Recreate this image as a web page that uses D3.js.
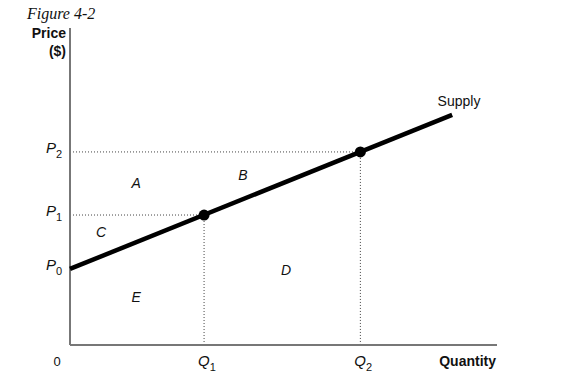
<!DOCTYPE html>
<html><head><meta charset="utf-8">
<script src="https://cdn.jsdelivr.net/npm/d3@7"></script>
<style>body{margin:0;background:#fff}svg{display:block}</style>
</head><body>
<script>
const supplyPoints = [[0, 24], [31.4, 41], [68, 60.9], [89.5, 72.6]];
const equilibria = [[31.4, 41], [68, 60.9]];
const priceTicks = [{v: 24, sub: "0"}, {v: 41, sub: "1"}, {v: 60.9, sub: "2"}];
const qtyTicks = [{v: 31.4, sub: "1"}, {v: 68, sub: "2"}];
const areaLabels = [{t: "A", x: 15.5, y: 51.1}, {t: "B", x: 40.5, y: 53.6}, {t: "C", x: 7.3, y: 35.6}, {t: "D", x: 50.6, y: 23.7}, {t: "E", x: 15.5, y: 15.1}];

const W = 572, H = 391;
const svg = d3.select("body").append("svg").attr("width", W).attr("height", H);
const x = d3.scaleLinear().domain([0, 100]).range([70, 497]);
const y = d3.scaleLinear().domain([0, 100]).range([345, 28]);
const font = "Helvetica, Arial, 'Liberation Sans', sans-serif";

// dotted guides
equilibria.forEach(([q, p]) => {
  svg.append("line").attr("x1", x(0)).attr("x2", x(q)).attr("y1", y(p)).attr("y2", y(p))
    .attr("stroke", "#444").attr("stroke-width", 1).attr("stroke-dasharray", "1,2");
  svg.append("line").attr("x1", x(q)).attr("x2", x(q)).attr("y1", y(p)).attr("y2", y(0))
    .attr("stroke", "#444").attr("stroke-width", 1).attr("stroke-dasharray", "1,2");
});

// axes
svg.append("line").attr("x1", x(0)).attr("x2", x(0)).attr("y1", y(100)).attr("y2", y(0)).attr("stroke", "#777").attr("stroke-width", 2);
svg.append("line").attr("x1", x(0)).attr("x2", x(100)).attr("y1", y(0)).attr("y2", y(0)).attr("stroke", "#777").attr("stroke-width", 2);

// supply line
svg.append("path").datum([supplyPoints[0], supplyPoints[supplyPoints.length - 1]])
  .attr("d", d3.line().x(d => x(d[0])).y(d => y(d[1])))
  .attr("stroke", "#000").attr("stroke-width", 4.5).attr("fill", "none");
svg.selectAll("circle.eq").data(equilibria).enter().append("circle")
  .attr("cx", d => x(d[0])).attr("cy", d => y(d[1])).attr("r", 5.5).attr("fill", "#000");

// price tick labels
priceTicks.forEach(d => {
  const t = svg.append("text").attr("x", 46).attr("y", y(d.v) + 1).attr("font-family", font).attr("font-size", 15).attr("fill", "#111");
  t.append("tspan").attr("font-style", "italic").text("P");
  t.append("tspan").attr("font-size", 11).attr("dy", 5).text(d.sub);
});
qtyTicks.forEach(d => {
  const t = svg.append("text").attr("x", x(d.v) - 6).attr("y", 366).attr("font-family", font).attr("font-size", 15).attr("fill", "#111");
  t.append("tspan").attr("font-style", "italic").text("Q");
  t.append("tspan").attr("font-size", 11).attr("dy", 5).text(d.sub);
});
svg.append("text").attr("x", 57).attr("y", 366).attr("text-anchor", "middle").attr("font-family", font).attr("font-size", 13).attr("fill", "#111").text("0");

// area labels
svg.selectAll("text.area").data(areaLabels).enter().append("text")
  .attr("x", d => x(d.x)).attr("y", d => y(d.y)).attr("dy", "0.35em").attr("text-anchor", "middle")
  .attr("font-family", font).attr("font-style", "italic").attr("font-size", 14).attr("fill", "#111").text(d => d.t);

// titles
svg.append("text").attr("x", 27).attr("y", 19).attr("font-family", "'Liberation Serif', 'DejaVu Serif', serif").attr("font-style", "italic").attr("font-size", 16).attr("fill", "#111").text("Figure 4-2");
svg.append("text").attr("x", 66).attr("y", 38).attr("text-anchor", "end").attr("font-family", font).attr("font-weight", "bold").attr("font-size", 14).attr("fill", "#111").text("Price");
svg.append("text").attr("x", 66).attr("y", 56).attr("text-anchor", "end").attr("font-family", font).attr("font-weight", "bold").attr("font-size", 14).attr("fill", "#111").text("($)");
svg.append("text").attr("x", 496).attr("y", 366).attr("text-anchor", "end").attr("font-family", font).attr("font-weight", "bold").attr("font-size", 14).attr("fill", "#111").text("Quantity");
svg.append("text").attr("x", 459).attr("y", 106).attr("text-anchor", "middle").attr("font-family", font).attr("font-size", 14).attr("fill", "#111").text("Supply");
</script>
</body></html>
